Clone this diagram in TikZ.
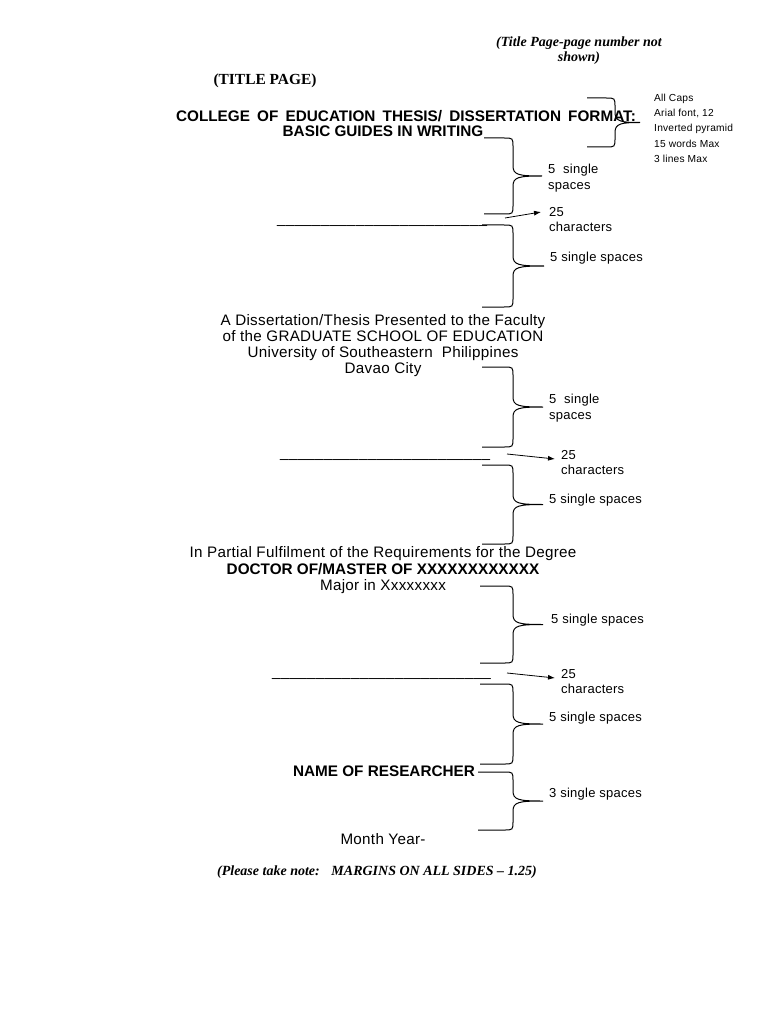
\documentclass[tikz,border=0pt]{standalone}
\usepackage{fontspec}
\setmainfont{Liberation Sans}[LetterSpace=2]
\newfontfamily\headfont{Liberation Sans}[BoldFont={Liberation Sans Bold}]
\newfontfamily\timesfont{Liberation Serif}
\usetikzlibrary{positioning,arrows.meta}

\tikzset{
  bodytext/.style={font=\fontsize{15.2}{16}\selectfont,align=center,inner sep=0pt,anchor=base},
  headtext/.style={font=\headfont\bfseries\fontsize{15.3}{16}\selectfont,inner sep=0pt,anchor=base},
  serifnote/.style={font=\timesfont\fontsize{14}{15.7}\selectfont\bfseries\itshape,align=center,inner sep=0pt,anchor=base},
  serifhead/.style={font=\timesfont\fontsize{15.4}{16}\selectfont\bfseries,inner sep=0pt,anchor=base},
  sidetext/.style={font=\fontsize{13}{15.5}\selectfont,align=left,inner sep=0pt},
  smalltext/.style={font=\fontsize{10.2}{15.2}\selectfont,align=left,inner sep=0pt,anchor=north west},
  bracestyle/.style={draw=black,line width=1pt},
  arr/.style={-{Latex[length=7pt,width=5pt]},line width=0.8pt},
}

% left x, spine x, tip x, top y, bottom y
\newcommand{\gapbrace}[5]{%
  \draw[bracestyle] (#1,#4) -- ({#2-9},#4) .. controls (#2,#4) .. (#2,{#4+9})
    -- (#2,{(#4+#5)/2-10}) .. controls (#2,{(#4+#5)/2-1}) and ({#2+6},{(#4+#5)/2}) .. (#3,{(#4+#5)/2})
    .. controls ({#2+6},{(#4+#5)/2}) and (#2,{(#4+#5)/2+1}) .. (#2,{(#4+#5)/2+10})
    -- (#2,{#5-9}) .. controls (#2,#5) .. ({#2-9},#5) -- (#1,#5);}

\begin{document}
\begin{tikzpicture}[x=1pt,y=-1pt]
  \useasboundingbox (0,0) rectangle (768,1024);
  \fill[white] (0,0) rectangle (768,1024);

  % headings
  \node[serifnote] (pagenote) at (579,62) {(Title Page-page number not\\shown)};
  \node[serifhead] (titlepage) at (265,85) {(TITLE PAGE)};
  \node[headtext] (title1) at (406,122) {\spaceskip=7.2pt COLLEGE OF EDUCATION THESIS/ DISSERTATION FORMAT:};
  \node[headtext] (title2) at (383,137) {BASIC GUIDES IN WRITING};
  \node[smalltext] (rules) at (654,94) {All Caps\\Arial font, 12\\Inverted pyramid\\15 words Max\\3 lines Max};
  \gapbrace{587}{615}{640}{98}{147}

  % first gap
  \gapbrace{484}{513}{542}{138}{214}
  \node[sidetext,anchor=north west] (gap1) at (548,164) {5~ single\\spaces};
  \node[bodytext,anchor=base west] (line1) at (277,223.7) {\_\_\_\_\_\_\_\_\_\_\_\_\_\_\_\_\_\_\_\_\_\_\_\_};
  \coordinate (a1s) at (505,218);
  \coordinate (a1e) at (541,212);
  \draw[arr] (a1s) -- (a1e);
  \node[sidetext,anchor=north west] (chars1) at (549,207) {25\\characters};
  \gapbrace{482}{513}{544}{225}{307}
  \node[sidetext,anchor=west] (gap2) at (550,258) {5 single spaces};

  % institution
  \node[bodytext] (faculty) at (383,373.5) {A Dissertation/Thesis Presented to the Faculty\\of the GRADUATE SCHOOL OF EDUCATION\\University of Southeastern~ Philippines\\Davao City};

  \gapbrace{482}{513}{543}{367}{447}
  \node[sidetext,anchor=north west] (gap3) at (549,394) {5~ single\\spaces};
  \node[bodytext,anchor=base west] (line2) at (280,457.7) {\_\_\_\_\_\_\_\_\_\_\_\_\_\_\_\_\_\_\_\_\_\_\_\_};
  \coordinate (a2s) at (507,454);
  \coordinate (a2e) at (555,459);
  \draw[arr] (a2s) -- (a2e);
  \node[sidetext,anchor=north west] (chars2) at (561,450) {25\\characters};
  \gapbrace{482}{513}{543}{465}{544}
  \node[sidetext,anchor=west] (gap4) at (549,500) {5 single spaces};

  % degree
  \node[bodytext,font=\fontsize{15.2}{16.5}\selectfont] (degree) at (383,590.5) {In Partial Fulfilment of the Requirements for the Degree\\{\headfont\bfseries\fontsize{15.3}{16.5}\selectfont DOCTOR OF/MASTER OF XXXXXXXXXXXX}\\Major in Xxxxxxxx};

  \gapbrace{480}{513}{543}{586}{663}
  \node[sidetext,anchor=west] (gap5) at (551,620) {5 single spaces};
  \node[bodytext,anchor=base west] (line3) at (272,676.7) {\_\_\_\_\_\_\_\_\_\_\_\_\_\_\_\_\_\_\_\_\_\_\_\_\_};
  \coordinate (a3s) at (507,673);
  \coordinate (a3e) at (555,678);
  \draw[arr] (a3s) -- (a3e);
  \node[sidetext,anchor=north west] (chars3) at (561,669) {25\\characters};
  \gapbrace{480}{513}{543}{684}{764}
  \node[sidetext,anchor=west] (gap6) at (549,718) {5 single spaces};

  % researcher
  \node[headtext] (researcher) at (384,776.7) {NAME OF RESEARCHER};
  \gapbrace{478}{513}{543}{772}{830}
  \node[sidetext,anchor=west] (gap7) at (549,794) {3 single spaces};
  \node[bodytext] (month) at (383,844) {Month Year-};

  \node[serifnote] (margins) at (377,875) {(Please take note:~~ MARGINS ON ALL SIDES – 1.25)};
\end{tikzpicture}
\end{document}
